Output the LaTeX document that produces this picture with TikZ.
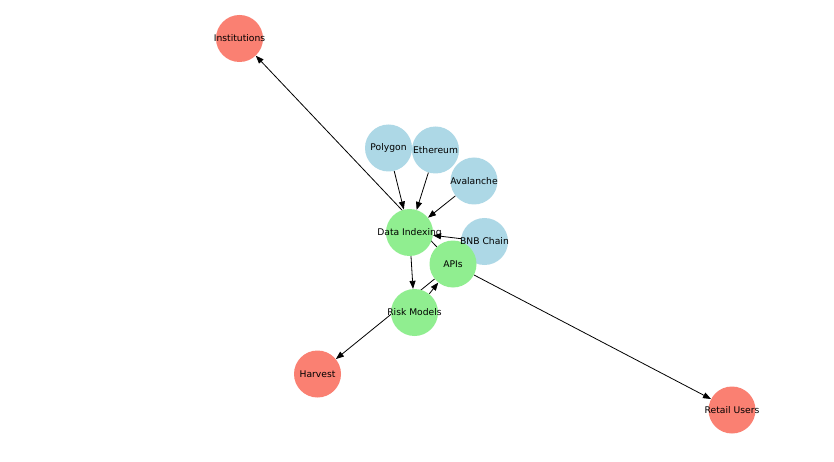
\documentclass[tikz,border=0pt]{standalone}
\usepackage{fontspec}
\setmainfont{DejaVu Sans}
\usetikzlibrary{arrows.meta}
\pgfdeclarelayer{bg}
\pgfdeclarelayer{paper}
\pgfsetlayers{paper,bg,main}
\definecolor{nblue}{HTML}{ADD8E6}
\definecolor{ngreen}{HTML}{90EE90}
\definecolor{nred}{HTML}{FA8072}
\tikzset{
  nd/.style={circle, minimum size=47pt, inner sep=0pt, draw=none},
  bl/.style={nd, fill=nblue},
  gr/.style={nd, fill=ngreen},
  rd/.style={nd, fill=nred},
  lab/.style={font=\fontsize{9.2}{10}\selectfont, inner sep=0pt},
  arr/.style={-{Stealth[length=8pt,width=6pt,inset=0pt]}, line width=0.8pt, black}
}
\begin{document}
\begin{tikzpicture}[x=1pt,y=-1pt]
\useasboundingbox (0,0) rectangle (834,462);
\begin{pgfonlayer}{paper}
\fill[white] (0,0) rectangle (834,462);
\end{pgfonlayer}
\node[rd] (inst) at (239.5,38.5) {};
\node[bl] (pol) at (388.5,148) {};
\node[bl] (eth) at (435.5,150) {};
\node[bl] (ava) at (474,181) {};
\node[gr] (di) at (409.5,232.5) {};
\node[bl] (bnb) at (484.5,241.5) {};
\node[gr] (api) at (453,264) {};
\node[gr] (rm) at (414.5,312.5) {};
\node[rd] (har) at (317.5,374) {};
\node[rd] (ret) at (732,410) {};
\node[lab] (instL) at (inst) {Institutions};
\node[lab] (polL) at (pol) {Polygon};
\node[lab] (ethL) at (eth) {Ethereum};
\node[lab] (avaL) at (ava) {Avalanche};
\node[lab] (diL) at (di) {Data Indexing};
\node[lab] (bnbL) at (bnb) {BNB Chain};
\node[lab] (apiL) at (api) {APIs};
\node[lab] (rmL) at (rm) {Risk Models};
\node[lab] (harL) at (har) {Harvest};
\node[lab] (retL) at (ret) {Retail Users};
\begin{pgfonlayer}{bg}
\draw[arr] (pol) -- (di);
\draw[arr] (eth) -- (di);
\draw[arr] (ava) -- (di);
\draw[arr] (bnb) -- (di);
\draw[arr] (di) -- (rm);
\draw[arr] (rm) -- (api);
\draw[arr] (api) -- (inst);
\draw[arr] (api) -- (har);
\draw[arr] (api) -- (ret);
\end{pgfonlayer}
\end{tikzpicture}
\end{document}
